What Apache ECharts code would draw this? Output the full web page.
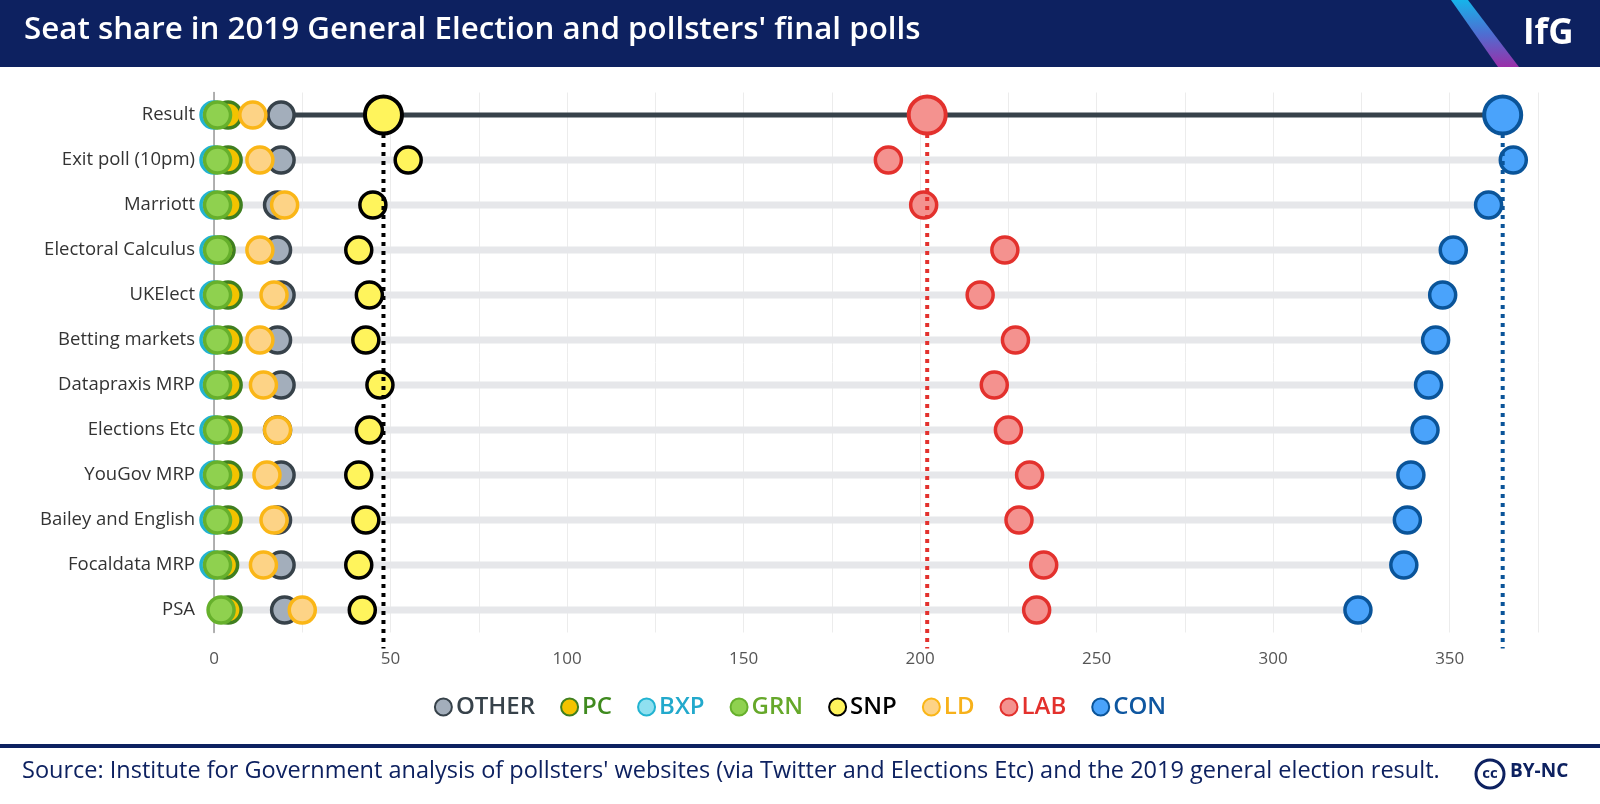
<!DOCTYPE html>
<html>
<head>
<meta charset="utf-8">
<script src="https://cdn.jsdelivr.net/npm/echarts@6/dist/echarts.min.js"></script>
<style>
  html, body { margin: 0; padding: 0; background: #fff; }
  #chart { width: 1600px; height: 804px; }
</style>
</head>
<body>
<div id="chart"></div>
<script>
var categories = ['Result', 'Exit poll (10pm)', 'Marriott', 'Electoral Calculus', 'UKElect',
  'Betting markets', 'Datapraxis MRP', 'Elections Etc', 'YouGov MRP', 'Bailey and English',
  'Focaldata MRP', 'PSA'];

// seats per party, same order as categories
var other = [19, 19, 18, 18, 19, 18, 19, 18, 19, 18, 19, 20];
var pc    = [4, 4, 4, 2, 4, 4, 4, 4, 4, 4, 3, 4];
var bxp   = [0, 0, 0, 0, 0, 0, 0, 0, 0, 0, 0, null];
var grn   = [1, 1, 1, 1, 1, 1, 1, 1, 1, 1, 1, 2];
var snp   = [48, 55, 45, 41, 44, 43, 47, 44, 41, 43, 41, 42];
var ld    = [11, 13, 20, 13, 17, 13, 14, 18, 15, 17, 14, 25];
var lab   = [202, 191, 201, 224, 217, 227, 221, 225, 231, 228, 235, 233];
var con   = [365, 368, 361, 351, 348, 346, 344, 343, 339, 338, 337, 324];

var xTicks = [0, 50, 100, 150, 200, 250, 300, 350];

// big = party gets the large marker in the result row
var parties = [
  {name: 'OTHER', data: other, fill: '#a3aebb', line: '#37424a', text: '#37424a'},
  {name: 'PC',    data: pc,    fill: '#f3c300', line: '#3f7f1f', text: '#3f8a1f'},
  {name: 'BXP',   data: bxp,   fill: '#8fe0f0', line: '#22b3d1', text: '#22a9cc'},
  {name: 'GRN',   data: grn,   fill: '#8fd14f', line: '#66b02c', text: '#66a82a'},
  {name: 'SNP',   data: snp,   fill: '#fff45c', line: '#000000', text: '#000000', big: true},
  {name: 'LD',    data: ld,    fill: '#fdd386', line: '#fab617', text: '#f7b11a'},
  {name: 'LAB',   data: lab,   fill: '#f4928f', line: '#e3312d', text: '#e3312d', big: true},
  {name: 'CON',   data: con,   fill: '#4aa3fb', line: '#0a5499', text: '#0f57a0', big: true}
];

var navy = '#0d2160';
var chart = echarts.init(document.getElementById('chart'));

// grey tracks (dark one for the result row)
var tracks = {
  type: 'custom',
  z: 1,
  silent: true,
  data: con.map(function (v, i) { return [v, i]; }),
  renderItem: function (params, api) {
    var i = api.value(1);
    var p0 = api.coord([0, i]);
    var p1 = api.coord([api.value(0), i]);
    return {
      type: 'line',
      shape: {x1: p0[0], y1: p0[1], x2: p1[0], y2: p1[1]},
      style: {stroke: i === 0 ? '#37424a' : '#e6e7ea', lineWidth: i === 0 ? 5 : 7}
    };
  }
};

var series = [tracks];
parties.forEach(function (p) {
  var pts = [];
  p.data.forEach(function (v, i) {
    if (v === null) return;
    var big = p.big && i === 0;
    pts.push({
      value: [v, i],
      symbolSize: big ? 37 : 26,
      itemStyle: {borderWidth: big ? 4 : 3.5}
    });
  });
  series.push({
    name: p.name,
    type: 'scatter',
    z: 3,
    data: pts,
    itemStyle: {color: p.fill, borderColor: p.line, borderWidth: 3.5, opacity: 1}
  });
});

// dotted lines down from the result for SNP, LAB, CON
var refColors = ['#000000', '#e3312d', '#0a5499'];
series.push({
  type: 'custom',
  z: 5,
  silent: true,
  data: [[snp[0], 0], [lab[0], 0], [con[0], 0]],
  renderItem: function (params, api) {
    var p = api.coord([api.value(0), 0]);
    var cs = params.coordSys;
    return {
      type: 'line',
      shape: {x1: p[0], y1: p[1] + 19, x2: p[0], y2: cs.y + cs.height + 16},
      style: {stroke: refColors[params.dataIndex], lineWidth: 4, lineDash: [4, 5]}
    };
  }
});

var option = {
  animation: false,
  backgroundColor: '#fff',
  textStyle: {fontFamily: 'Open Sans'},
  grid: {left: 214, right: 62, top: 92.5, height: 540},
  xAxis: {
    type: 'value',
    min: 0,
    max: 375,
    interval: 25,
    axisLine: {show: false},
    axisTick: {show: false},
    splitLine: {lineStyle: {color: '#ececec', width: 1}},
    axisLabel: {
      color: '#555',
      fontSize: 17,
      margin: 18,
      formatter: function (v) { return xTicks.indexOf(v) >= 0 ? v : ''; }
    }
  },
  yAxis: {
    type: 'category',
    inverse: true,
    data: categories,
    axisLine: {show: true, lineStyle: {color: '#999', width: 1.5}},
    axisTick: {show: false},
    axisLabel: {color: '#333', fontSize: 18.5, margin: 19}
  },
  legend: {
    top: 690,
    left: 'center',
    icon: 'circle',
    itemWidth: 17,
    itemHeight: 17,
    itemGap: 25,
    data: parties.map(function (p) {
      return {name: p.name, textStyle: {color: p.text}};
    }),
    textStyle: {fontSize: 24, fontWeight: 600, fontFamily: 'Open Sans', padding: [0, 0, 0, -1]}
  },
  series: series,
  graphic: [
    {type: 'rect', left: 0, top: 0, shape: {width: 1600, height: 67}, style: {fill: navy}, z: 10},
    {
      type: 'polygon', z: 11,
      shape: {points: [[1451, 0], [1468, 0], [1519, 67], [1498, 67]]},
      style: {
        fill: new echarts.graphic.LinearGradient(0, 0, 0, 1, [
          {offset: 0, color: '#16b4ea'},
          {offset: 0.5, color: '#4d6fd2'},
          {offset: 1, color: '#9a2fa8'}
        ])
      }
    },
    {
      type: 'text', left: 24, top: 15, z: 11,
      style: {text: "Seat share in 2019 General Election and pollsters' final polls",
        fill: '#fff', fontSize: 31.3, fontWeight: 600, fontFamily: 'Open Sans'}
    },
    {
      type: 'text', left: 1523, top: 17, z: 11,
      style: {text: 'IfG', fill: '#fff', fontSize: 35, fontWeight: 'bold', fontFamily: 'Open Sans'}
    },
    {type: 'rect', left: 0, top: 744, shape: {width: 1600, height: 4}, style: {fill: navy}},
    {
      type: 'text', left: 22, top: 759,
      style: {text: "Source: Institute for Government analysis of pollsters' websites (via Twitter and Elections Etc) and the 2019 general election result.",
        fill: navy, fontSize: 23.5, fontFamily: 'Open Sans'}
    },
    {
      type: 'circle', shape: {cx: 1490, cy: 774, r: 14},
      style: {fill: '#fff', stroke: navy, lineWidth: 3}
    },
    {
      type: 'text', x: 1490, y: 774,
      style: {text: 'cc', fill: navy, fontSize: 15, fontWeight: 'bold', fontFamily: 'Open Sans',
        align: 'center', verticalAlign: 'middle'}
    },
    {
      type: 'text', left: 1510, top: 762,
      style: {text: 'BY-NC', fill: navy, fontSize: 19, fontWeight: 'bold', fontFamily: 'Open Sans'}
    }
  ]
};

chart.setOption(option);
</script>
</body>
</html>
